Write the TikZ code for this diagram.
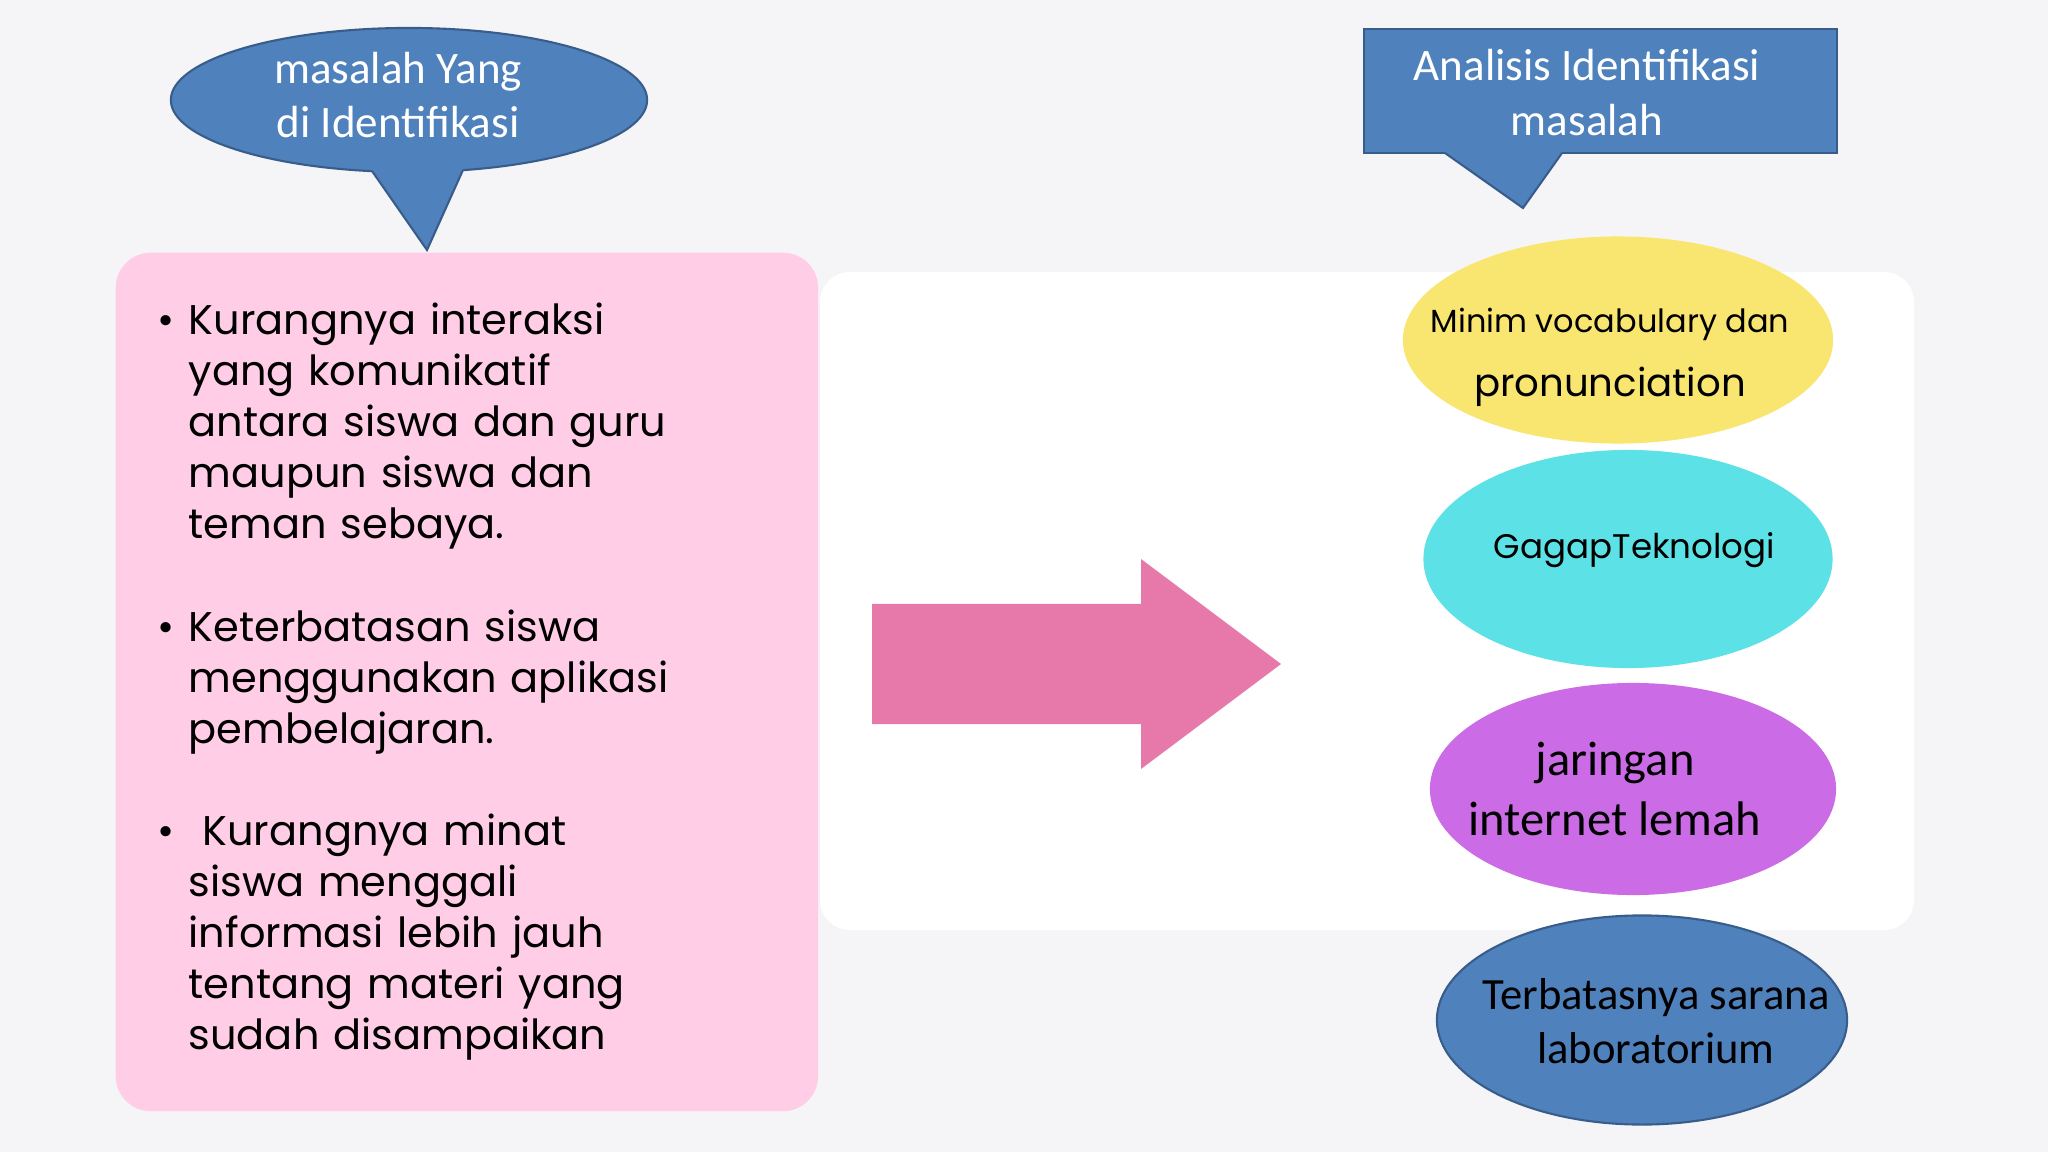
\documentclass[tikz,border=0pt]{standalone}
\usepackage{fontspec}
\setmainfont{Carlito}
\newfontfamily\poppins{Poppins}
\usetikzlibrary{shapes}

\definecolor{slidegray}{RGB}{245,245,247}
\definecolor{calloutblue}{RGB}{79,129,189}
\definecolor{calloutedge}{RGB}{56,93,138}
\definecolor{boxpink}{RGB}{255,206,230}
\definecolor{arrowpink}{RGB}{231,121,170}
\definecolor{vocabyellow}{RGB}{249,230,112}
\definecolor{techcyan}{RGB}{92,225,230}
\definecolor{netpurple}{RGB}{203,108,230}

\newcommand{\butir}[1]{\noindent\makebox[0.31cm][l]{\textbullet}\parbox[t]{5.9cm}{#1}}

\begin{document}
\begin{tikzpicture}[x=0.01cm, y=-0.01cm]
   \tikzset{bubble/.style={fill=calloutblue, draw=calloutedge, line width=0.6pt, inner sep=0pt}}
   \tikzset{bubbletext/.style={align=center, text=white}}
   \tikzset{oval/.style={ellipse, inner sep=0pt}}
   \tikzset{ovaltext/.style={align=center, text=black}}
   \fill[slidegray] (0,0) rectangle (2048,1152);
   \useasboundingbox (0,0) rectangle (2048,1152);
   \fill[white, rounded corners=0.3cm] (820,272) rectangle (1914,930);
   \node[bubble, ellipse, minimum width=4.76cm, minimum height=1.44cm] (masalah) at (409,100) {};
   \fill[calloutblue] (372,171) -- (427,250) -- (463,170) -- (463,160) -- (372,160) -- cycle;
   \draw[calloutedge, line width=0.6pt] (372,171) -- (427,250) -- (463,170);
   \node[bubbletext, font=\fontsize{12.8pt}{15.1pt}\selectfont] (masalahtext) at (398,95) {masalah Yang\\di Identifikasi};
   \node[bubble, rectangle, minimum width=4.73cm, minimum height=1.24cm] (analisis) at (1600.5,91) {};
   \fill[calloutblue] (1445,153) -- (1523,208) -- (1562,153) -- (1562,145) -- (1445,145) -- cycle;
   \draw[calloutedge, line width=0.6pt] (1445,153) -- (1523,208) -- (1562,153);
   \node[bubbletext, font=\fontsize{12.8pt}{15.6pt}\selectfont] (analisistext) at (1587,92.5) {Analisis Identifikasi\\masalah};
   \node[fill=boxpink, rounded corners=0.35cm, anchor=north west, minimum width=7.02cm, minimum height=8.58cm] (kotak) at (115,252) {};
   \node[anchor=north west, inner sep=0pt, text width=6.3cm, align=left, font=\poppins\fontsize{11.8pt}{14.5pt}\selectfont] (daftar) at (157,302) {%
      \butir{Kurangnya interaksi\\yang komunikatif\\antara siswa dan guru\\maupun siswa dan\\teman sebaya.}\par\vspace{0.57cm}
      \butir{Keterbatasan siswa\\menggunakan aplikasi\\pembelajaran.}\par\vspace{0.57cm}
      \butir{\ Kurangnya minat\\siswa menggali\\informasi lebih jauh\\tentang materi yang\\sudah disampaikan}\par};
   \fill[arrowpink] (872,604) -- (1141,604) -- (1141,559) -- (1281,664) -- (1141,769) -- (1141,724) -- (872,724) -- cycle;
   \node[oval, fill=vocabyellow, minimum width=4.30cm, minimum height=2.07cm] (vocab) at (1618,340) {};
   \node[ovaltext, font=\poppins\fontsize{9.1pt}{18.2pt}\selectfont] (vocabtext) at (1610,357) {Minim vocabulary dan\\{\fontsize{11pt}{18.2pt}\selectfont pronunciation}};
   \node[oval, fill=techcyan, minimum width=4.09cm, minimum height=2.18cm] (gagap) at (1628,559) {};
   \node[ovaltext, font=\poppins\fontsize{9.7pt}{12pt}\selectfont] (gagaptext) at (1634.5,550) {GagapTeknologi};
   \node[oval, fill=netpurple, minimum width=4.06cm, minimum height=2.12cm] (jaringan) at (1633,789) {};
   \node[ovaltext, font=\fontsize{13.8pt}{17.1pt}\selectfont] (jaringantext) at (1615,789) {jaringan\\internet lemah};
   \node[oval, bubble, minimum width=4.10cm, minimum height=2.09cm] (sarana) at (1642,1020) {};
   \node[ovaltext, font=\fontsize{12.7pt}{15.4pt}\selectfont] (saranatext) at (1656,1021.5) {Terbatasnya sarana\\laboratorium};
\end{tikzpicture}
\end{document}
